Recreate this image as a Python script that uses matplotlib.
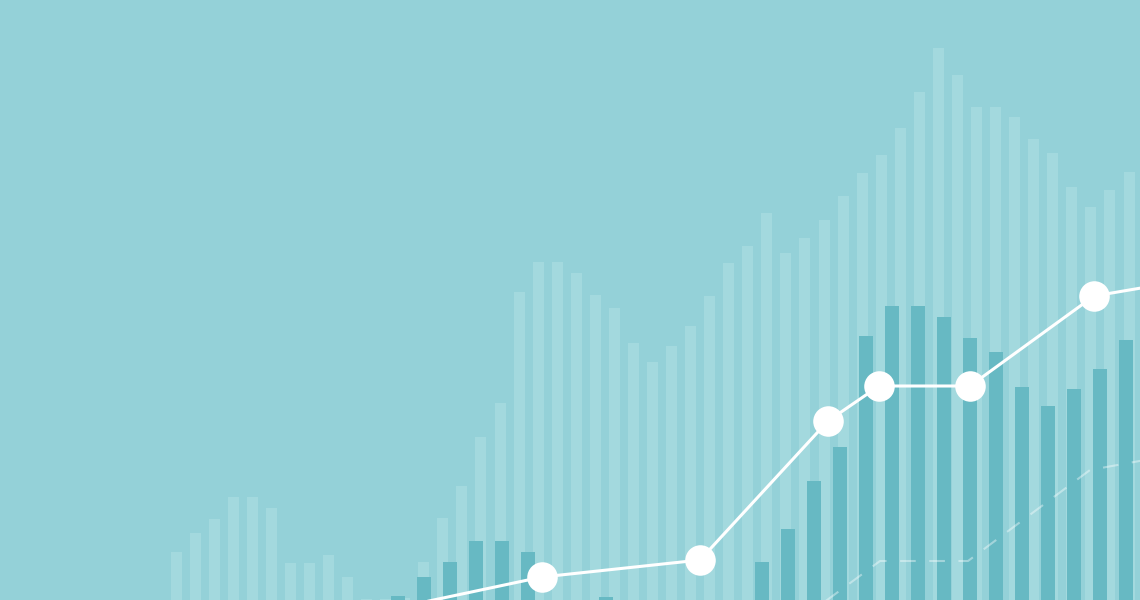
import matplotlib

matplotlib.use("Agg")
import matplotlib.pyplot as plt
import numpy as np

# Pale background bars (height above the bottom edge, px-like units)
light_vals = [48, 67, 81, 103, 103, 92, 37, 37, 45, 23, 1, 1, 2, 38, 82, 114,
              163, 197, 308, 338, 338, 327, 305, 292, 257, 238, 254, 274, 304,
              337, 354, 387, 347, 362, 380, 404, 427, 445, 472, 508, 552, 525,
              493, 493, 483, 461, 447, 413, 393, 410, 428]
# Darker foreground bars
dark_vals = [4, 23, 38, 59, 59, 48, 0, 0, 3, 0, 0, 0, 0, 0, 38, 71, 119, 153,
             264, 294, 294, 283, 262, 248, 213, 194, 211, 231, 260]
# Solid line with markers
line_x = [330, 542, 700, 828, 879, 970, 1094, 1200]
line_y = [-22, 23, 40, 179, 214, 214, 304, 322]
# Faint dashed line
dash_x = [800, 880, 968, 1090, 1200]
dash_y = [-20, 39, 39, 130, 150]

BG = "#94d1d8"
LIGHT = "#a3d9de"
DARK = "#67b9c3"

fig = plt.figure(figsize=(11.4, 6.0), dpi=100)
fig.patch.set_facecolor(BG)
ax = fig.add_axes([0, 0, 1, 1])
ax.set_facecolor(BG)

light_pos = 176 + 19.06 * np.arange(len(light_vals))
dark_pos = 398 + 26.0 * np.arange(len(dark_vals))

ax.bar(light_pos, light_vals, width=11, color=LIGHT, zorder=1)
ax.bar(dark_pos, dark_vals, width=14, color=DARK, zorder=2)
ax.plot(dash_x, dash_y, color="white", lw=1.5, alpha=0.4,
        dashes=(7.5, 6.5), zorder=3)
ax.plot(line_x, line_y, color="white", lw=2.2, marker="o", ms=22,
        markeredgewidth=0, zorder=4)

ax.set_xlim(0, 1140)
ax.set_ylim(0, 600)
ax.axis("off")
fig.savefig("out.png", dpi=100, facecolor=BG)
